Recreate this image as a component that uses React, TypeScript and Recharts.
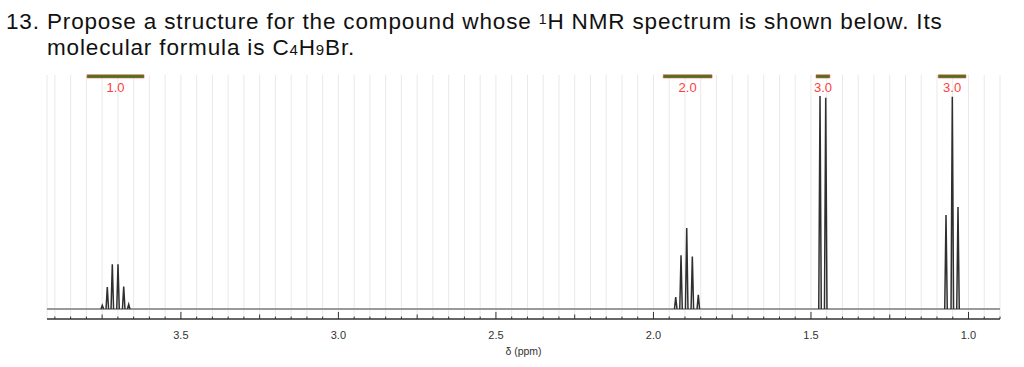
import React from 'react';
import { LineChart, Line, XAxis, YAxis, CartesianGrid, ReferenceLine, ReferenceArea } from 'recharts';

// 1H NMR spectrum of C4H9Br, peaks

// peak positions (ppm) and relative intensities (tallest line = 100)
const peakShifts = [
  3.7495, 3.7336, 3.7177, 3.6996, 3.6815, 3.6657,
  1.9293, 1.9125, 1.8944, 1.8766, 1.8576,
  1.4713, 1.4532,
  1.0714, 1.0514, 1.0333,
];
const peakIntensities = [
  1.7, 10.3, 21, 21, 10.6, 2.2,
  5.6, 25.2, 38, 24.7, 6.7,
  100, 99.2,
  44.1, 99.7, 47.9,
];

// integration regions
const integralStart = [3.798, 1.969, 1.484, 1.096];
const integralEnd = [3.617, 1.814, 1.44, 1.008];
const integralLabels = ['1.0', '2.0', '3.0', '3.0'];

// labelled axis values
const majorTicks = ['3.5', '3.0', '2.5', '2.0', '1.5', '1.0'];

const X_MIN = 0.9;
const X_MAX = 3.925;
const HALF_WIDTH = 0.004;
const FONT = 'Liberation Sans, Arial, sans-serif';

// each line is drawn as a thin spike, broken between lines so the grey baseline shows
const spectrum: { ppm: number; y: number | null }[] = [];
peakShifts.forEach((p, i) => {
  spectrum.push({ ppm: p + HALF_WIDTH, y: 0 });
  spectrum.push({ ppm: p, y: peakIntensities[i] });
  spectrum.push({ ppm: p - HALF_WIDTH, y: 0 });
  spectrum.push({ ppm: p - HALF_WIDTH, y: null });
});

// tick every 0.05 ppm
const ticks: number[] = [];
for (let i = 0; i <= 60; i++) ticks.push(Math.round((X_MIN + i * 0.05) * 100) / 100);

const isMultiple = (v: number, step: number) => Math.abs(v / step - Math.round(v / step)) < 1e-6;

const AxisTick = ({ x, y, payload }: any) => {
  const v = payload.value;
  const major = isMultiple(v, 0.5);
  const medium = isMultiple(v, 0.25);
  const len = major ? 7 : medium ? 4.5 : 2.5;
  const label = majorTicks.find((t) => Math.abs(parseFloat(t) - v) < 1e-6);
  return (
    <g>
      <line x1={x} x2={x} y1={y} y2={y - len} stroke="#333" strokeWidth={1} />
      {major && label && (
        <text x={x} y={y + 20} textAnchor="middle" fontSize={11} fill="#333" fontFamily={FONT}>
          {label}
        </text>
      )}
    </g>
  );
};

export default function App() {
  return (
    <div style={{ position: 'absolute', left: 0, top: 0, width: 1024, height: 367, background: '#fff' }}>
      <div style={{
        position: 'absolute', left: 6, top: 0, fontFamily: FONT,
        fontSize: 22.5, letterSpacing: 0.85, color: '#111', lineHeight: '26px', whiteSpace: 'nowrap', paddingTop: 6,
      }}>
        <div>13. Propose a structure for the compound whose <span style={{ fontSize: 14, verticalAlign: 5 }}>1</span>H NMR spectrum is shown below. Its</div>
        <div style={{ paddingLeft: 41 }}>molecular formula is C<span style={{ fontSize: 15 }}>4</span>H<span style={{ fontSize: 15 }}>9</span>Br.</div>
      </div>
      <div style={{ position: 'absolute', left: 0, top: 0 }}>
        <LineChart width={1024} height={367} data={spectrum}
          margin={{ top: 75, right: 24, bottom: 0, left: 47 }}>
          <CartesianGrid vertical horizontal={false} stroke="#e9e9e9" />
          <XAxis
            type="number"
            dataKey="ppm"
            domain={[X_MIN, X_MAX]}
            allowDataOverflow
            reversed
            ticks={ticks}
            interval={0}
            height={48}
            tickSize={0}
            tickMargin={0}
            tickLine={false}
            axisLine={{ stroke: '#333', strokeWidth: 1.3 }}
            tick={<AxisTick />}
            label={{ value: 'δ (ppm)', position: 'insideBottom', offset: 12, fontSize: 10.5, fill: '#333', fontFamily: FONT }}
          />
          <YAxis hide type="number" domain={[-4.7, 109.9]} allowDataOverflow />
          <ReferenceLine y={0} stroke="#9a9a9a" strokeWidth={2} />
          {integralLabels.map((lab, i) => (
            <ReferenceArea
              key={lab + i}
              x1={integralStart[i]}
              x2={integralEnd[i]}
              y1={108.5}
              y2={110.0}
              ifOverflow="visible"
              fill="#3a7a1c"
              fillOpacity={1}
              stroke="#ff4a4a"
              strokeWidth={0.6}
              label={{ value: lab, position: 'bottom', offset: 5, fontSize: 13, fill: '#ff4040', fontFamily: FONT }}
            />
          ))}
          <Line
            type="linear"
            dataKey="y"
            stroke="#2f2f2f"
            strokeWidth={1.5}
            dot={false}
            connectNulls={false}
            isAnimationActive={false}
          />
        </LineChart>
      </div>
    </div>
  );
}
